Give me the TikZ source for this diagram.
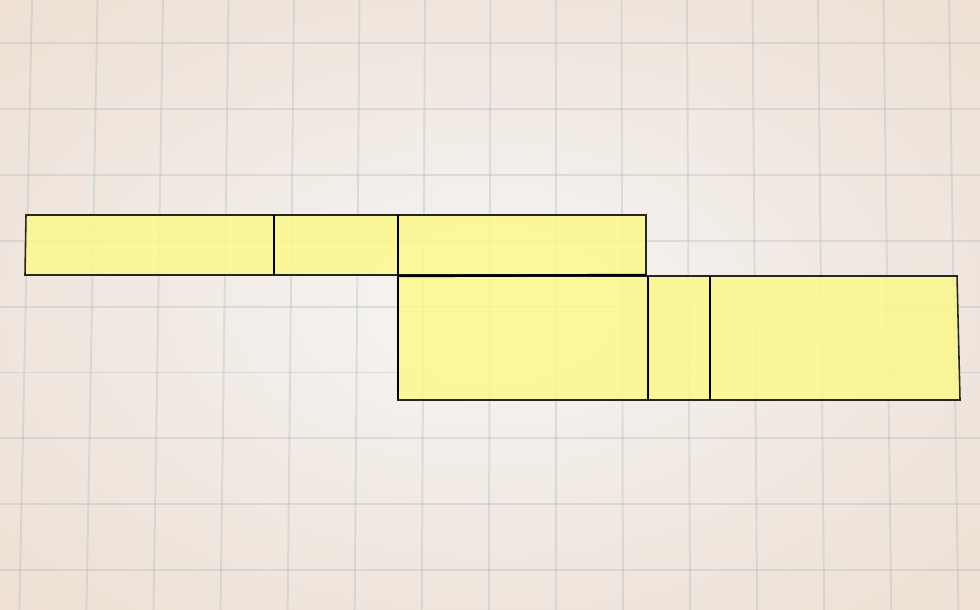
\documentclass[tikz,border=0pt]{standalone}
\usetikzlibrary{calc}
\definecolor{papermid}{RGB}{244,241,238}
\definecolor{paperring}{RGB}{240,231,223}
\definecolor{paperside}{RGB}{237,221,207}
\definecolor{paperedge}{RGB}{233,209,188}
\definecolor{gridline}{RGB}{165,182,188}
\definecolor{sticky}{RGB}{253,249,138}
\pgfdeclareradialshading{paper}{\pgfpoint{0bp}{0bp}}{%
  color(0bp)=(papermid); color(6bp)=(papermid); color(22bp)=(paperring);
  color(40bp)=(paperside); color(60bp)=(paperedge); color(71bp)=(paperedge)}
\tikzstyle{cell}=[fill=sticky,fill opacity=.84,draw=black!85,line width=.45pt]
\tikzstyle{divider}=[black,line width=.7pt]
\tikzstyle{grid line}=[gridline,opacity=.32,line width=.55pt]
\def\gx{65.5} % grid step
\def\gy{65.9}

\begin{document}
\begin{tikzpicture}[x=.01cm,y=-.01cm]
  % PAPER
  \shade[shading=paper] (0,0) rectangle (980,610);
  \useasboundingbox (0,0) rectangle (980,610);

  % GRID
  \foreach \i in {0,...,14}
    \draw[grid line] ({32+\gx*\i},0) -- ({32+\gx*\i+(32+\gx*\i-560)*.024},610);
  \foreach \j in {0,...,8}
    \draw[grid line] (0,{43+\gy*\j}) -- ++(980,0);

  % TOP ROW
  \coordinate (TA) at (26,215);
  \coordinate (TB) at (274,215);
  \coordinate (TC) at (398,215);
  \coordinate (TD) at (646,215);
  \coordinate (BA) at (25,275);
  \coordinate (BD) at (646,275);
  \draw[cell] (TA) -- (TD) -- (BD) -- (BA) -- cycle;

  % BOTTOM ROW
  \coordinate (UA) at (398,276);
  \coordinate (UB) at (648,276);
  \coordinate (UC) at (710,276);
  \coordinate (UD) at (957,276);
  \coordinate (LA) at (398,400);
  \coordinate (LD) at (960,400);
  \draw[cell] (UA) -- (UD) -- (LD) -- (LA) -- cycle;

  % DIVIDERS
  \draw[divider] (TB) -- (TB|-BA);
  \draw[divider] (TC) -- (LA);
  \draw[divider] (UA) -- (BD);
  \draw[divider] (UB) -- (UB|-LA);
  \draw[divider] (UC) -- (UC|-LA);
\end{tikzpicture}
\end{document}
